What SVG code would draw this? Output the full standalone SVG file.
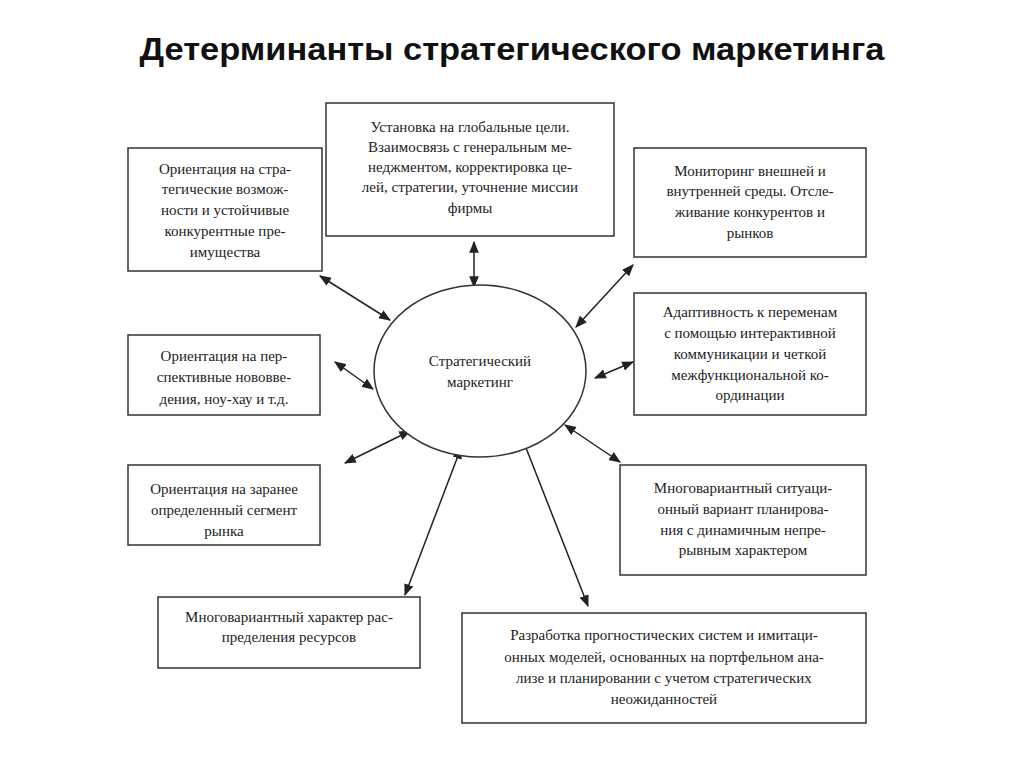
<svg xmlns="http://www.w3.org/2000/svg" width="1024" height="767" viewBox="0 0 1024 767">
<style>
.b{fill:#fff;stroke:#333;stroke-width:1.5}
.t{font-family:"Liberation Serif",serif;font-size:15px;fill:#222;text-anchor:middle}
.c{stroke:#222;stroke-width:1.5;fill:none;marker-start:url(#a);marker-end:url(#a)}
</style>
<defs><marker id="a" viewBox="0 0 10 10" refX="9" refY="5" markerWidth="8" markerHeight="8" orient="auto-start-reverse"><path d="M0,1 L10,5 L0,9 z" fill="#222"/></marker></defs>
<rect width="1024" height="767" fill="#fff"/>
<text x="512" y="60" font-family="Liberation Sans,sans-serif" font-weight="bold" font-size="31" text-anchor="middle" textLength="745" lengthAdjust="spacingAndGlyphs" fill="#111">Детерминанты стратегического маркетинга</text>
<g id="connectors">
<line class="c" x1="474" y1="242" x2="474" y2="287"/>
<line class="c" x1="320" y1="276" x2="390" y2="320"/>
<line class="c" x1="633" y1="265" x2="576" y2="327"/>
<line class="c" x1="335" y1="362" x2="373" y2="389"/>
<line class="c" x1="633" y1="362" x2="595" y2="378"/>
<line class="c" x1="345" y1="463" x2="410" y2="431"/>
<line class="c" x1="565" y1="425" x2="620" y2="462"/>
<line class="c" x1="405" y1="595" x2="461" y2="448"/>
<line class="c" x1="588" y1="606" x2="519" y2="430"/>
</g>
<g id="center"><ellipse cx="480" cy="371" rx="106" ry="86" class="b"/>
<text class="t" x="480" y="366">Стратегический</text><text class="t" x="480" y="387">маркетинг</text></g>
<g id="n1"><rect class="b" x="326" y="103" width="288" height="133"/>
<text class="t" x="470" y="132">Установка на глобальные цели.</text>
<text class="t" x="470" y="152">Взаимосвязь с генеральным ме-</text>
<text class="t" x="470" y="172">неджментом, корректировка це-</text>
<text class="t" x="470" y="192">лей, стратегии, уточнение миссии</text>
<text class="t" x="470" y="213">фирмы</text></g>
<g id="n2"><rect class="b" x="128" y="148" width="194" height="123"/>
<text class="t" x="225" y="174">Ориентация на стра-</text>
<text class="t" x="225" y="194">тегические возмож-</text>
<text class="t" x="225" y="215">ности и устойчивые</text>
<text class="t" x="225" y="236">конкурентные пре-</text>
<text class="t" x="225" y="257">имущества</text></g>
<g id="n3"><rect class="b" x="634" y="148" width="232" height="109"/>
<text class="t" x="750" y="176">Мониторинг внешней и</text>
<text class="t" x="750" y="196">внутренней среды. Отсле-</text>
<text class="t" x="750" y="217">живание конкурентов и</text>
<text class="t" x="750" y="238">рынков</text></g>
<g id="n4"><rect class="b" x="128" y="335" width="192" height="80"/>
<text class="t" x="224" y="361">Ориентация на пер-</text>
<text class="t" x="224" y="382">спективные нововве-</text>
<text class="t" x="224" y="404">дения, ноу-хау и т.д.</text></g>
<g id="n5"><rect class="b" x="634" y="293" width="232" height="122"/>
<text class="t" x="750" y="317">Адаптивность к переменам</text>
<text class="t" x="750" y="338">с помощью интерактивной</text>
<text class="t" x="750" y="359">коммуникации и четкой</text>
<text class="t" x="750" y="380">межфункциональной ко-</text>
<text class="t" x="750" y="400">ординации</text></g>
<g id="n6"><rect class="b" x="128" y="465" width="192" height="80"/>
<text class="t" x="224" y="494">Ориентация на заранее</text>
<text class="t" x="224" y="515">определенный сегмент</text>
<text class="t" x="224" y="536">рынка</text></g>
<g id="n7"><rect class="b" x="620" y="465" width="246" height="110"/>
<text class="t" x="743" y="493">Многовариантный ситуаци-</text>
<text class="t" x="743" y="514">онный вариант планирова-</text>
<text class="t" x="743" y="535">ния с динамичным непре-</text>
<text class="t" x="743" y="555">рывным характером</text></g>
<g id="n8"><rect class="b" x="158" y="597" width="262" height="71"/>
<text class="t" x="289" y="622">Многовариантный характер рас-</text>
<text class="t" x="289" y="642">пределения ресурсов</text></g>
<g id="n9"><rect class="b" x="462" y="613" width="404" height="110"/>
<text class="t" x="664" y="640">Разработка прогностических систем и имитаци-</text>
<text class="t" x="664" y="662">онных моделей, основанных на портфельном ана-</text>
<text class="t" x="664" y="683">лизе и планировании с учетом стратегических</text>
<text class="t" x="664" y="704">неожиданностей</text></g>
</svg>
